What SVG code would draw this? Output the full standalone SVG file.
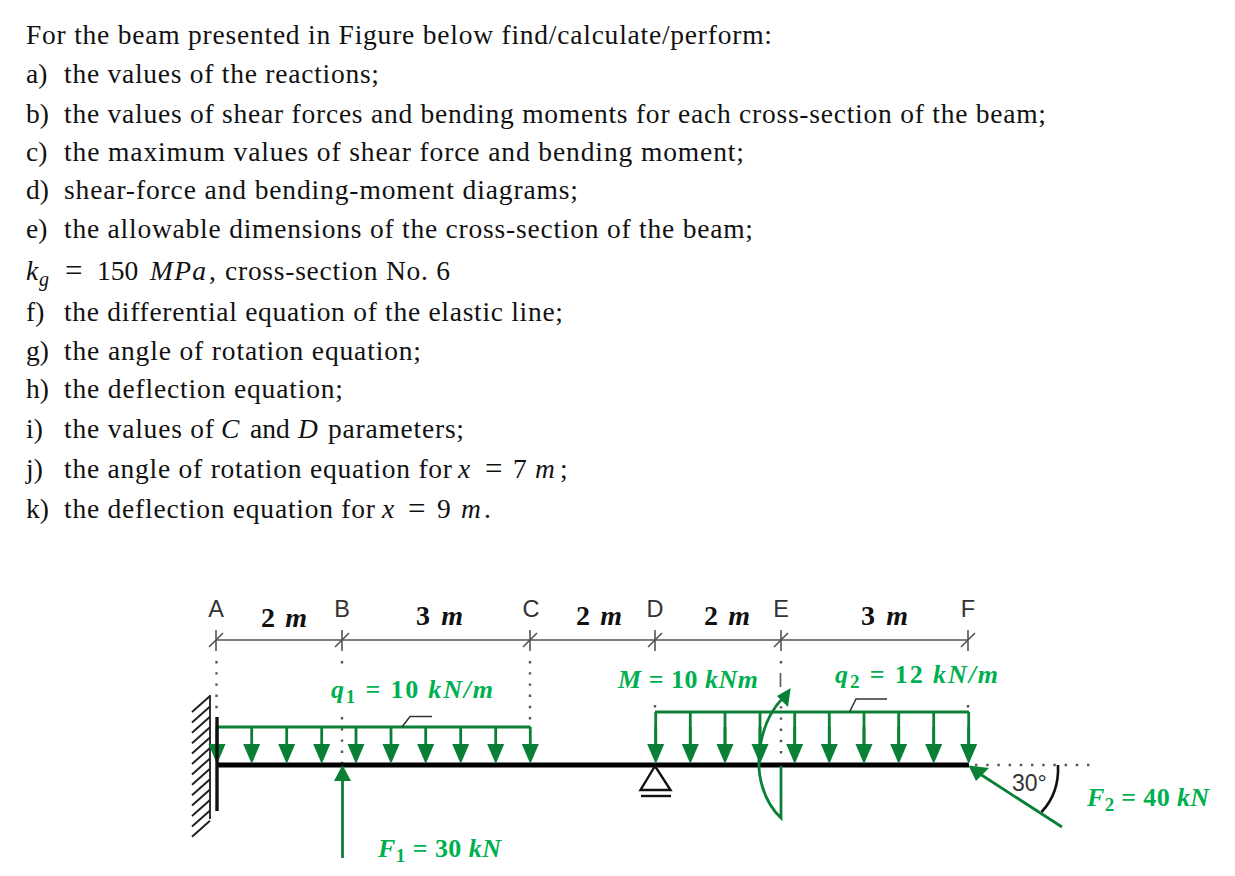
<svg xmlns="http://www.w3.org/2000/svg" xmlns:xlink="http://www.w3.org/1999/xlink" width="1235" height="876" viewBox="0 0 1235 876">
<style>
.t{font-family:"Liberation Serif","Times New Roman",serif;font-size:27.5px;fill:#111}
.i{font-style:italic}
.e{font-size:31px}
.g{font-family:"Liberation Serif","Times New Roman",serif;font-size:26px;font-weight:bold;fill:#00b050}
.k{font-family:"Liberation Serif","Times New Roman",serif;font-size:28px;font-weight:bold;fill:#111}
.b{font-style:italic}
.s{font-size:19px;font-style:normal}
.l{font-family:"Liberation Sans",Arial,sans-serif;font-size:23.5px;fill:#333;text-anchor:middle}
.dim{stroke:#555;stroke-width:1.6;fill:none}
.dot{stroke:#555;stroke-width:2.4;fill:none;stroke-dasharray:2.4 8.8}
.ar{stroke:#0a8037;stroke-width:2.8;fill:none}
.hd{fill:#0a8037}
.lead{stroke:#333;stroke-width:1.5;fill:none}
</style>
<defs>
<g id="dn"><path class="ar" d="M0,-37V-16"/><path class="hd" d="M-8.500,-20H8.500L0,0Z"/></g>
<g id="tick"><path class="dim" d="M0,-10V11M-7,7L7,-7"/></g>
</defs>
<g id="task-text">
<text class="t" x="26" y="44" textLength="746">For the beam presented in Figure below find/calculate/perform:</text>
<text class="t" x="26" y="83">a)</text><text class="t" x="64" y="83" textLength="315">the values of the reactions;</text>
<text class="t" x="26" y="123">b)</text><text class="t" x="64" y="123" textLength="982">the values of shear forces and bending moments for each cross-section of the beam;</text>
<text class="t" x="26" y="161">c)</text><text class="t" x="64" y="161" textLength="680">the maximum values of shear force and bending moment;</text>
<text class="t" x="26" y="199">d)</text><text class="t" x="64" y="199" textLength="514">shear-force and bending-moment diagrams;</text>
<text class="t" x="26" y="238">e)</text><text class="t" x="64" y="238" textLength="689">the allowable dimensions of the cross-section of the beam;</text>
<text class="t i" x="26" y="280">k</text><text class="t i" x="39" y="286" style="font-size:20px">g</text><text class="t e" x="65" y="281">=</text><text class="t" x="97" y="280">150</text><text class="t i" x="150" y="280" textLength="56">MPa</text><text class="t" x="209" y="280">,</text><text class="t" x="225" y="280" textLength="225">cross-section No. 6</text>
<text class="t" x="26" y="321">f)</text><text class="t" x="64" y="321" textLength="499">the differential equation of the elastic line;</text>
<text class="t" x="26" y="360">g)</text><text class="t" x="64" y="360" textLength="357">the angle of rotation equation;</text>
<text class="t" x="26" y="398">h)</text><text class="t" x="64" y="398" textLength="279">the deflection equation;</text>
<text class="t" x="26" y="438">i)</text><text class="t" x="64" y="438" textLength="150">the values of</text><text class="t i" x="221" y="438">C</text><text class="t" x="250" y="438">and</text><text class="t i" x="298" y="438">D</text><text class="t" x="328" y="438" textLength="136">parameters;</text>
<text class="t" x="26" y="478">j)</text><text class="t" x="64" y="478" textLength="388">the angle of rotation equation for</text><text class="t i" x="458" y="478">x</text><text class="t e" x="485" y="479">=</text><text class="t" x="513" y="478">7</text><text class="t i" x="535" y="478">m</text><text class="t" x="560" y="478">;</text>
<text class="t" x="26" y="518">k)</text><text class="t" x="64" y="518" textLength="311">the deflection equation for</text><text class="t i" x="382" y="518">x</text><text class="t e" x="408" y="519">=</text><text class="t" x="437" y="518">9</text><text class="t i" x="461" y="518">m</text><text class="t" x="484" y="518">.</text>
</g>
<g id="dimensions">
<path class="dim" d="M216,640H968"/>
<use href="#tick" x="216" y="640"/><use href="#tick" x="342" y="640"/><use href="#tick" x="530" y="640"/><use href="#tick" x="655" y="640"/><use href="#tick" x="781" y="640"/><use href="#tick" x="968" y="640"/>
<text class="l" x="216" y="617">A</text><text class="l" x="342" y="617">B</text><text class="l" x="531" y="617">C</text><text class="l" x="655" y="617">D</text><text class="l" x="781" y="617">E</text><text class="l" x="968" y="617">F</text>
<text class="k" x="261" y="627" textLength="46">2 <tspan class="b">m</tspan></text><text class="k" x="416" y="625" textLength="47">3 <tspan class="b">m</tspan></text><text class="k" x="576" y="625" textLength="46">2 <tspan class="b">m</tspan></text><text class="k" x="704" y="625" textLength="46">2 <tspan class="b">m</tspan></text><text class="k" x="861" y="625" textLength="47">3 <tspan class="b">m</tspan></text>
<path class="dot" d="M216.500,661V716M342,661V665M342,717V764M530,661V720M655,705V708M781,661V665M781,695V755M968,705V708M975,765H1092"/>
<path class="dim" d="M780.500,673V687" stroke-width="2"/>
</g>
<g id="wall">
<path d="M210,695V819" stroke="#333" stroke-width="2" fill="none"/>
<path d="M210,696L192,712M210,706.400L192,722.400M210,716.800L192,732.800M210,727.200L192,743.200M210,737.600L192,753.600M210,748L192,764M210,758.400L192,774.400M210,768.800L192,784.800M210,779.200L192,795.200M210,789.600L192,805.600M210,800L192,816M210,810.400L192,826.400M210,820.800L192,836.800" stroke="#222" stroke-width="2" fill="none"/>
</g>
<g id="beam"><path d="M218,765H969" stroke="#000" stroke-width="5" fill="none"/></g>
<g id="support-D">
<path d="M655,766L640.500,790H670.500Z" stroke="#111" stroke-width="2.400" fill="#fff"/>
<path d="M641,796H671" stroke="#111" stroke-width="2.400" fill="none"/>
</g>
<g id="load-q1">
<path class="ar" d="M218,727H530.500"/><path class="lead" d="M402,727L410,716.500H432"/>
<use href="#dn" x="217" y="764"/><use href="#dn" x="251.700" y="764"/><use href="#dn" x="286.700" y="764"/><use href="#dn" x="321.700" y="764"/><use href="#dn" x="356" y="764"/><use href="#dn" x="391" y="764"/><use href="#dn" x="425.700" y="764"/><use href="#dn" x="460.700" y="764"/><use href="#dn" x="495.700" y="764"/><use href="#dn" x="530.300" y="764"/>
<text class="g" x="331" y="698" textLength="162"><tspan class="b">q</tspan><tspan class="s" dy="5">1</tspan><tspan dy="-5"> = 10 </tspan><tspan class="b">kN/m</tspan></text>
</g>
<path d="M217,717V811" stroke="#111" stroke-width="3.400" fill="none"/>
<g id="load-q2">
<path class="ar" d="M655,712H969"/><path class="lead" d="M849.500,712L856,699H887"/>
<path class="ar" d="M655.700,712V745M690.300,712V745M725,712V745M760,712V745M794.700,712V745M829.300,712V745M864,712V745M898.700,712V745M933.700,712V745M968.700,712V745"/>
<use href="#dn" x="655.700" y="764"/><use href="#dn" x="690.300" y="764"/><use href="#dn" x="725" y="764"/><use href="#dn" x="760" y="764"/><use href="#dn" x="794.700" y="764"/><use href="#dn" x="829.300" y="764"/><use href="#dn" x="864" y="764"/><use href="#dn" x="898.700" y="764"/><use href="#dn" x="933.700" y="764"/><use href="#dn" x="968.700" y="764"/>
<text class="g" x="835" y="683" textLength="163"><tspan class="b">q</tspan><tspan class="s" dy="5">2</tspan><tspan dy="-5"> = 12 </tspan><tspan class="b">kN/m</tspan></text>
</g>
<g id="moment-M">
<path class="ar" d="M781,766V818C765,803 754,775 761,742C765,722 773,708 783,698"/>
<path class="hd" d="M790.700,688L788,707L777,696Z"/>
<text class="g" x="618" y="688" textLength="140"><tspan class="b">M</tspan> = 10 <tspan class="b">kNm</tspan></text>
</g>
<g id="force-F1">
<path class="ar" d="M342.500,858V780"/><path class="hd" d="M334,781H351L342.500,765Z"/>
<text class="g" x="378" y="857" textLength="123"><tspan class="b">F</tspan><tspan class="s" dy="5">1</tspan><tspan dy="-5"> = 30 </tspan><tspan class="b">kN</tspan></text>
</g>
<g id="force-F2">
<path d="M1058,765C1059,786 1051,802 1041.500,812" stroke="#111" stroke-width="2.600" fill="none"/>
<path class="ar" d="M1062,827L980,774"/><path class="hd" d="M968.500,765.500L989,768L976,781Z"/>
<text x="1012" y="791" style="font-family:'Liberation Sans',Arial,sans-serif;font-size:23px;fill:#333">30°</text>
<text class="g" x="1087" y="806" textLength="122"><tspan class="b">F</tspan><tspan class="s" dy="5">2</tspan><tspan dy="-5"> = 40 </tspan><tspan class="b">kN</tspan></text>
</g>
</svg>
